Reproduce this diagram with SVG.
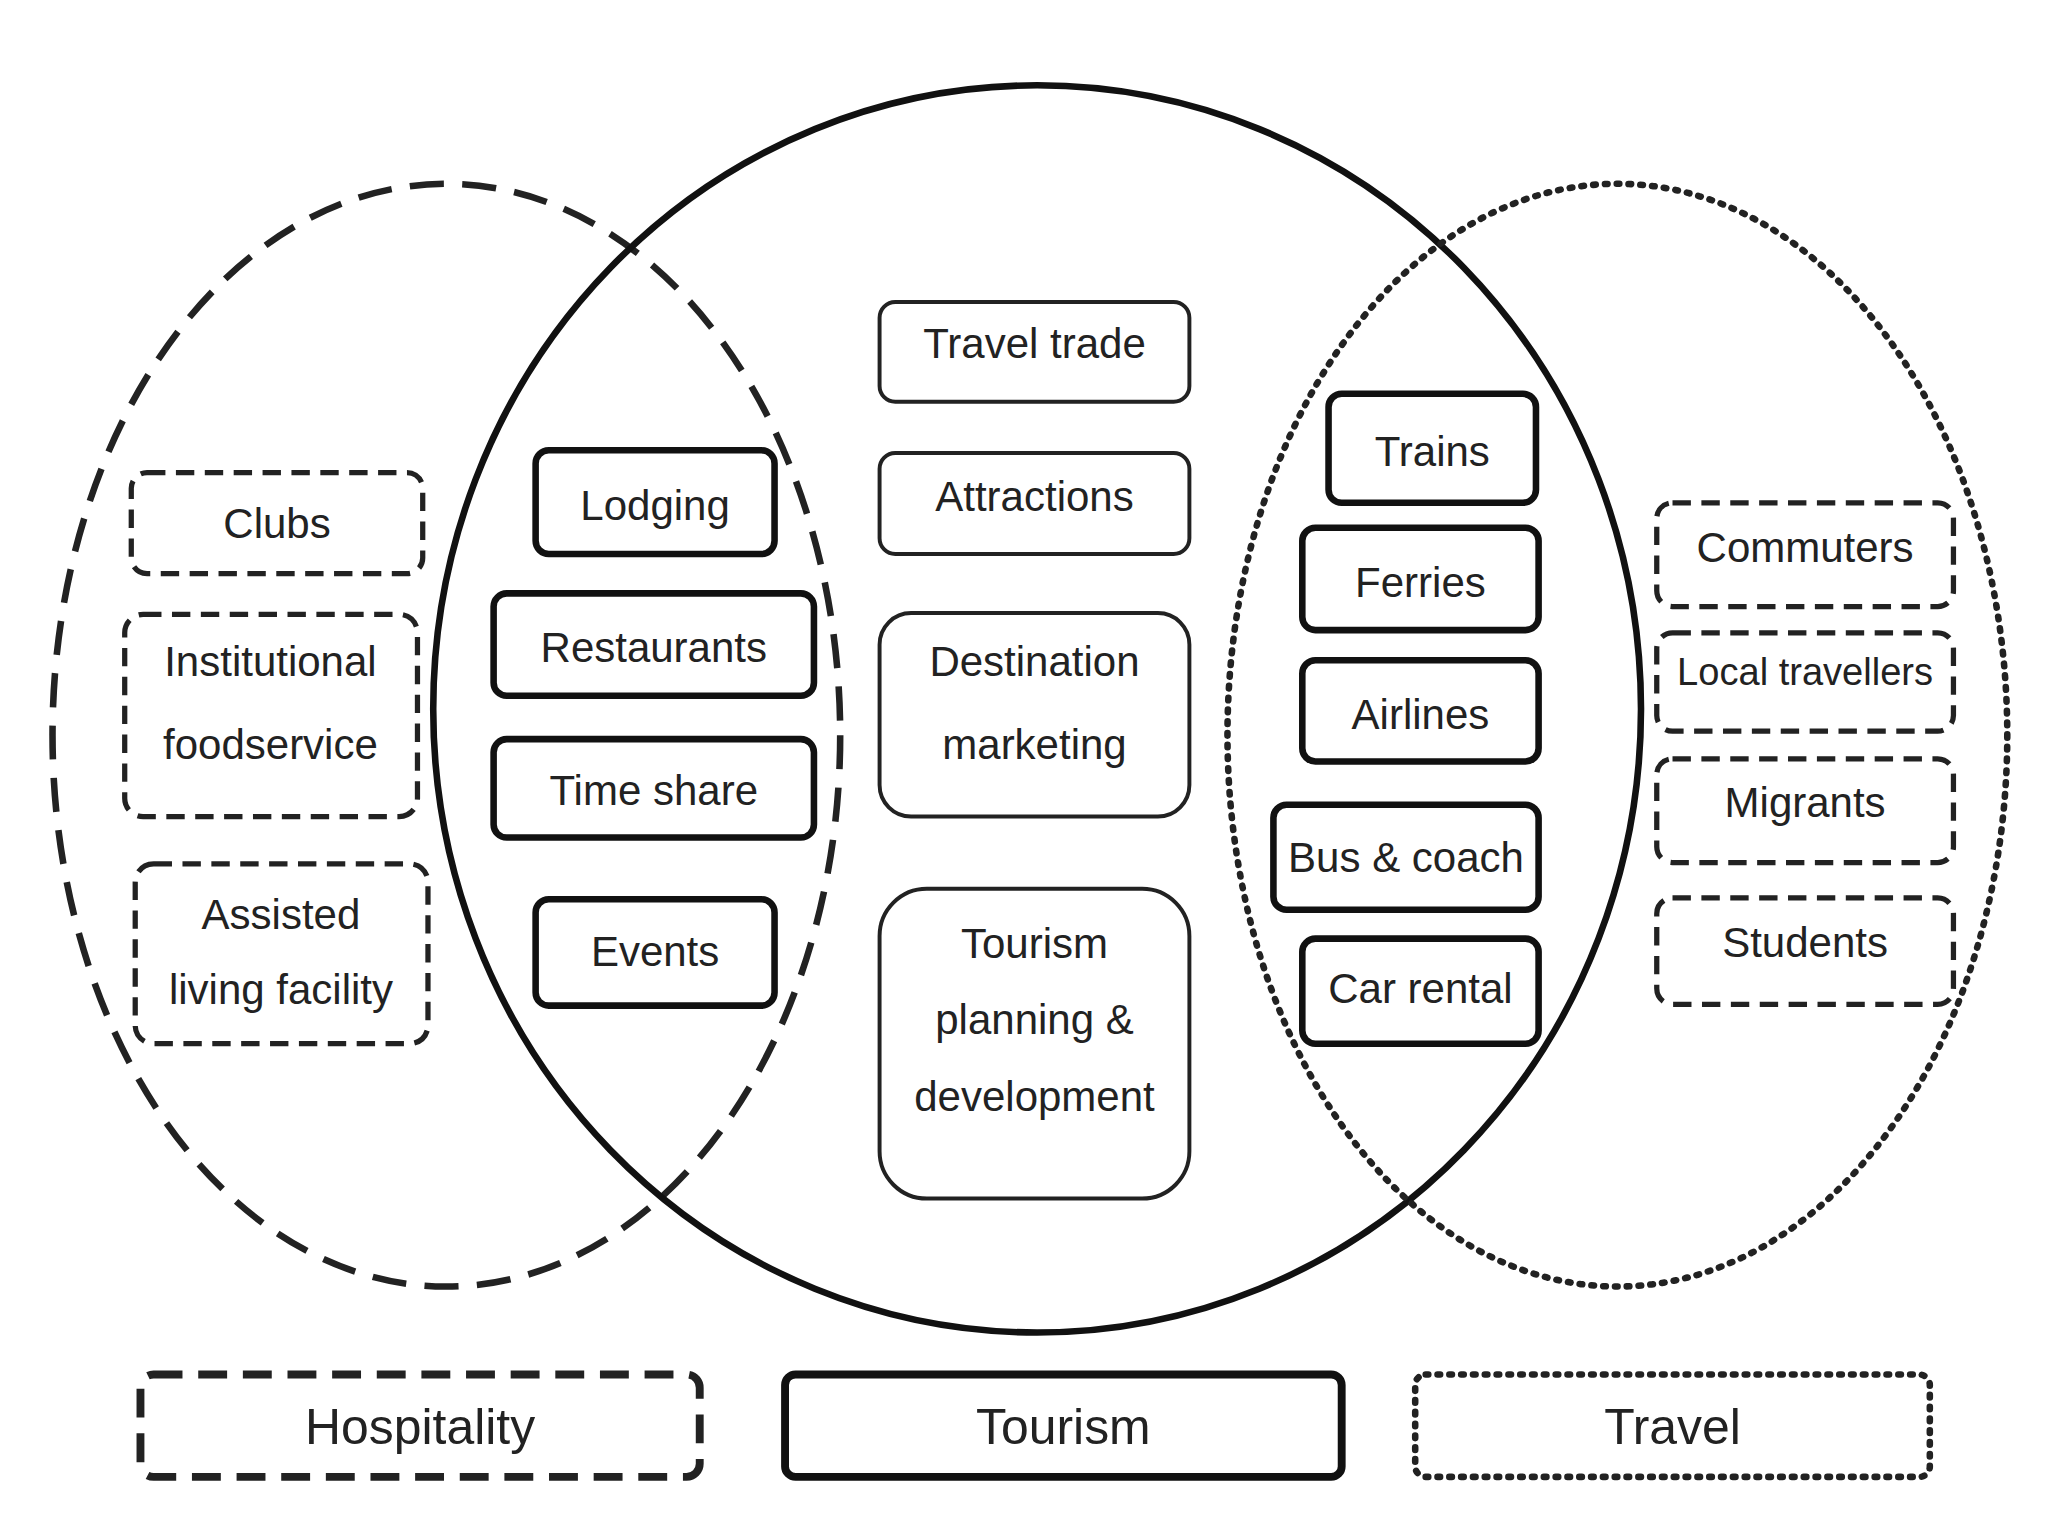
<svg xmlns="http://www.w3.org/2000/svg" width="2048" height="1536" viewBox="0 0 2048 1536">
<style>
text{font-family:"Liberation Sans",Arial,sans-serif;font-size:32px;fill:#222;text-anchor:middle}
.dash{fill:none;stroke:#222;stroke-width:4;stroke-dasharray:14 8}
.bold{fill:#fff;stroke:#111;stroke-width:5}
.thin{fill:#fff;stroke:#222;stroke-width:3}
.dot{fill:none;stroke:#222;stroke-width:5;stroke-dasharray:2 7;stroke-linecap:round}
.big{font-size:38px}
</style>
<rect width="2048" height="1536" fill="#fff"/>
<g transform="scale(1.3128)">
<g id="circles">
<ellipse cx="340" cy="560" rx="300" ry="420" fill="none" stroke="#222" stroke-width="5" stroke-dasharray="26 14"/>
<ellipse cx="790" cy="540" rx="460" ry="475" fill="none" stroke="#111" stroke-width="5"/>
<ellipse cx="1232" cy="560" rx="297" ry="420" class="dot"/>
</g>
<g id="clubs"><rect x="100" y="360" width="222" height="77" rx="12" class="dash"/><text x="211" y="410">Clubs</text></g>
<g id="institutional"><rect x="95" y="468" width="223" height="154" rx="14" class="dash"/><text x="206" y="515">Institutional</text><text x="206" y="578">foodservice</text></g>
<g id="assisted"><rect x="103" y="658" width="223" height="137" rx="14" class="dash"/><text x="214" y="708">Assisted</text><text x="214" y="765">living facility</text></g>
<g id="lodging"><rect x="408" y="343" width="182" height="79" rx="10" class="bold"/><text x="499" y="396">Lodging</text></g>
<g id="restaurants"><rect x="376" y="452" width="244" height="78" rx="10" class="bold"/><text x="498" y="504">Restaurants</text></g>
<g id="timeshare"><rect x="376" y="563" width="244" height="75" rx="10" class="bold"/><text x="498" y="613">Time share</text></g>
<g id="events"><rect x="408" y="685" width="182" height="81" rx="10" class="bold"/><text x="499" y="736">Events</text></g>
<g id="traveltrade"><rect x="670" y="230" width="236" height="76" rx="12" class="thin"/><text x="788" y="273">Travel trade</text></g>
<g id="attractions"><rect x="670" y="345" width="236" height="77" rx="12" class="thin"/><text x="788" y="389">Attractions</text></g>
<g id="destination"><rect x="670" y="467" width="236" height="155" rx="24" class="thin"/><text x="788" y="515">Destination</text><text x="788" y="578">marketing</text></g>
<g id="planning"><rect x="670" y="677" width="236" height="236" rx="36" class="thin"/><text x="788" y="730">Tourism</text><text x="788" y="788">planning &amp;</text><text x="788" y="846">development</text></g>
<g id="trains"><rect x="1012" y="300" width="158" height="83" rx="10" class="bold"/><text x="1091" y="355">Trains</text></g>
<g id="ferries"><rect x="992" y="402" width="180" height="78" rx="10" class="bold"/><text x="1082" y="455">Ferries</text></g>
<g id="airlines"><rect x="992" y="503" width="180" height="77" rx="10" class="bold"/><text x="1082" y="555">Airlines</text></g>
<g id="bus"><rect x="970" y="613" width="202" height="80" rx="10" class="bold"/><text x="1071" y="664">Bus &amp; coach</text></g>
<g id="car"><rect x="992" y="715" width="180" height="80" rx="10" class="bold"/><text x="1082" y="764">Car rental</text></g>
<g id="commuters"><rect x="1262" y="383" width="226" height="79" rx="12" class="dash"/><text x="1375" y="428">Commuters</text></g>
<g id="local"><rect x="1262" y="482" width="226" height="75" rx="12" class="dash"/><text x="1375" y="522" style="font-size:29px">Local travellers</text></g>
<g id="migrants"><rect x="1262" y="578" width="226" height="79" rx="12" class="dash"/><text x="1375" y="622">Migrants</text></g>
<g id="students"><rect x="1262" y="684" width="226" height="81" rx="12" class="dash"/><text x="1375" y="729">Students</text></g>
<g id="legend-hospitality"><rect x="107" y="1047" width="426" height="78" rx="10" fill="none" stroke="#222" stroke-width="6" stroke-dasharray="22 12"/><text x="320" y="1100" class="big">Hospitality</text></g>
<g id="legend-tourism"><rect x="598" y="1047" width="424" height="78" rx="8" fill="none" stroke="#111" stroke-width="6"/><text x="810" y="1100" class="big">Tourism</text></g>
<g id="legend-travel"><rect x="1078" y="1047" width="392" height="78" rx="8" class="dot"/><text x="1274" y="1100" class="big">Travel</text></g>
<g id="connectors"></g>
</g>
</svg>
